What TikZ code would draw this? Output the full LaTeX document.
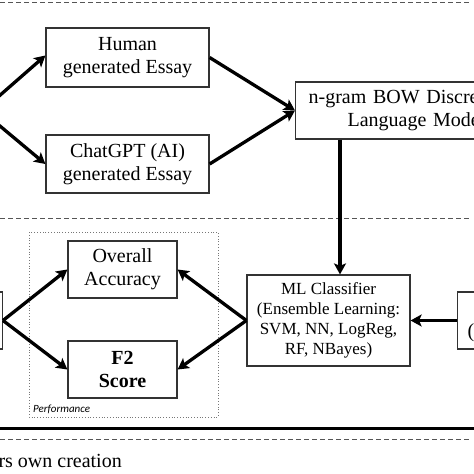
\documentclass[tikz,border=0pt]{standalone}
\usepackage{fontspec}
\setmainfont{Liberation Serif}
\newfontfamily\perffont{Carlito}
\usetikzlibrary{positioning,arrows.meta,calc}
\definecolor{edge}{HTML}{333333}
\definecolor{sep}{HTML}{555555}
\definecolor{perf}{HTML}{777777}

\begin{document}
\begin{tikzpicture}[
  x=1pt, y=-1pt,
  font=\fontsize{20}{23}\selectfont,
  box/.style={draw=edge, line width=1.2pt, fill=white, align=center, inner sep=0pt},
  arr/.style={-{Stealth[length=11pt, width=12pt, inset=2.5pt]}, line width=3.3pt, black},
  sepline/.style={draw=sep, line width=0.8pt, dash pattern=on 5pt off 3pt}]

\useasboundingbox (0,0) rectangle (474,474);
\clip (0,0) rectangle (474,474);
\fill[white] (0,0) rectangle (474,474);

\draw[sepline] (0,2) -- (470,2);
\draw[sepline] (0,218) -- (470,218);
\draw[sepline] (0,439) -- (470,439);
\draw[line width=3pt] (0,428) -- (474,428);

\coordinate (essays) at (-18,111);
\node[box, minimum width=163pt, minimum height=59pt] (human) at (127.5,57.5) {Human\\generated Essay};
\node[box, minimum width=163pt, minimum height=58pt] (chatgpt) at (127.5,164) {ChatGPT (AI)\\generated Essay};
\node[box, anchor=west, text width=220pt, minimum height=57pt, inner xsep=13pt, align=left] (ngram) at (295,110.5) {n-gram BOW Discrete\\\hspace*{39pt}Language Model};

\node[box, minimum width=163pt, minimum height=91pt, font=\fontsize{17}{20}\selectfont] (ml) at (328.5,320.5) {ML Classifier\\(Ensemble Learning:\\SVM, NN, LogReg,\\RF, NBayes)};
\node[box, anchor=west, text width=100pt, minimum height=57pt, inner xsep=10pt, align=left] (feat) at (457,320.5) {\strut\\(};
\node[box, anchor=east, minimum width=100pt, minimum height=57pt] (result) at (3,320.5) {};

\draw[perf, line width=0.8pt, dotted] (29,232) rectangle (218,417);
\node[anchor=base west, font=\perffont\itshape\fontsize{11}{12}\selectfont, inner sep=0pt] (perflabel) at (33,412) {Performance};
\node[box, minimum width=109pt, minimum height=57pt] (acc) at (122.5,269.5) {Overall\\Accuracy};
\node[box, minimum width=109pt, minimum height=57pt, font=\fontsize{20}{23}\selectfont\bfseries] (ftwo) at (122.5,369.5) {F2\\Score};

\draw[arr] (essays) -- ([yshift=2pt]human.west);
\draw[arr] (essays) -- (chatgpt.west);
\draw[arr] (human.east) -- (ngram.west);
\draw[arr] (chatgpt.east) -- (ngram.west);
\draw[arr] ($(ngram.south west)+(45,0)$) coordinate (drop) -- (drop |- ml.north);
\draw[arr] (feat.west) -- (ml.east);
\draw[arr] (ml.west) -- (acc.east);
\draw[arr] (ml.west) -- (ftwo.east);
\draw[arr] (result.east) -- (acc.west);
\draw[arr] (result.east) -- (ftwo.west);

\node[anchor=base east, inner sep=0pt] (source) at (122,467) {Source: Authors own creation};
\end{tikzpicture}
\end{document}
